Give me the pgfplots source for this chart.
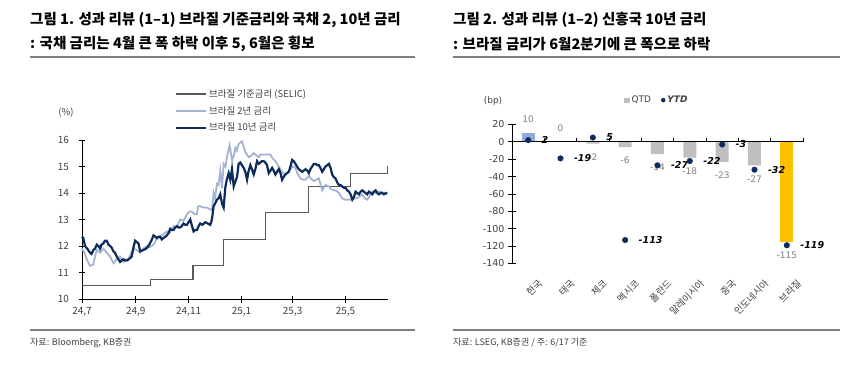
\documentclass[border=0pt]{standalone}
\usepackage{pgfplots}
\pgfplotsset{compat=1.18}
\usepackage{fontspec}
\setmainfont{Noto Sans CJK KR}
\newfontfamily\dv{DejaVu Sans}
\definecolor{navy}{HTML}{0D2B5B}
\definecolor{lblue}{HTML}{A3B3D1}
\definecolor{selic}{HTML}{595959}
\definecolor{qgray}{HTML}{BFBFBF}
\definecolor{kblue}{HTML}{8FAADC}
\definecolor{gold}{HTML}{FFC000}
\definecolor{txt}{HTML}{404040}
\definecolor{lbl}{HTML}{7F7F7F}
\definecolor{rule}{HTML}{7F7F7F}
\begin{document}
\begin{tikzpicture}
\path[use as bounding box] (0,0) rectangle (860pt,-370pt);
% ---------- titles / rules / footers
\node[anchor=west, inner sep=0, font=\fontsize{14.5}{16}\selectfont\bfseries] at (30pt,-20pt) {그림 1. 성과 리뷰 (1–1) 브라질 기준금리와 국채 2, 10년 금리};
\node[anchor=west, inner sep=0, font=\fontsize{14.5}{16}\selectfont\bfseries] at (30pt,-44pt) {: 국채 금리는 4월 큰 폭 하락 이후 5, 6월은 횡보};
\node[anchor=west, inner sep=0, font=\fontsize{14.5}{16}\selectfont\bfseries] at (453pt,-20pt) {그림 2. 성과 리뷰 (1–2) 신흥국 10년 금리};
\node[anchor=west, inner sep=0, font=\fontsize{14.5}{16}\selectfont\bfseries] at (453pt,-44pt) {: 브라질 금리가 6월2분기에 큰 폭으로 하락};
\draw[rule, line width=1.2pt] (30pt,-57pt) -- (415pt,-57pt);
\draw[rule, line width=1.2pt] (453pt,-57pt) -- (840pt,-57pt);
\draw[rule, line width=1.2pt] (30pt,-330pt) -- (415pt,-330pt);
\draw[rule, line width=1.2pt] (453pt,-330pt) -- (840pt,-330pt);
\node[anchor=west, inner sep=0, text=txt, font=\fontsize{9}{10}\selectfont] at (30pt,-343pt) {자료: Bloomberg, KB증권};
\node[anchor=west, inner sep=0, text=txt, font=\fontsize{9}{10}\selectfont] at (453pt,-343pt) {자료: LSEG, KB증권 / 주: 6/17 기준};
\node[inner sep=0, text=txt, font=\fontsize{9.5}{10}\selectfont] at (66pt,-113pt) {(\%)};
\node[inner sep=0, text=txt, font=\dv\fontsize{9}{10}\selectfont] at (493pt,-101pt) {(bp)};

% ---------- left chart
\begin{axis}[
  at={(82pt,-299pt)}, anchor=south west, scale only axis,
  width=306pt, height=159pt,
  xmin=0, xmax=353, ymin=10, ymax=16,
  axis lines=left, axis line style={-, black, line width=0.8pt},
  tick align=center, major tick length=7pt,
  tick style={black, line width=0.7pt},
  xtick={0,62,123,184,243,304},
  xticklabels={{24,7},{24,9},{24,11},{25,1},{25,3},{25,5}},
  ytick={10,11,...,16},
  /pgf/number format/assume math mode=true,
  tick label style={font=\fontsize{10}{11}\selectfont, text=txt},
  yticklabel style={xshift=-6pt},
  xticklabel style={yshift=-1pt},
  clip=false,
  legend style={draw=none, fill=none, at={(0.293,1.345)}, anchor=north west,
    font=\fontsize{9.5}{11}\selectfont, text=txt, row sep=3.5pt,
    legend cell align=left},
  legend image code/.code={\draw[#1] (0pt,0pt) -- (30pt,0pt);},
]
\addplot[selic, line width=1.1pt, const plot] coordinates {
(0,10.5) (79,10.75) (128,11.25) (163,12.25) (212,13.25) (261,14.25) (310,14.75) (352,15.0) (353,15.0)};
\addlegendentry{브라질 기준금리 (SELIC)}
\addplot[lblue, line width=1.8pt] coordinates {
(0,11.9) (3,11.75) (5.4,11.5) (9.2,11.25) (13.1,11.3) (15,11.6) (17,11.85) (20.8,11.75) (24.7,11.9) (28.5,11.75) (32.4,11.6) (36.2,11.35) (40.1,11.5) (43.9,11.6) (47.8,11.4) (50,11.5) (53.6,11.5) (57,11.75) (59.3,11.9) (63,11.85) (67.1,11.75) (71,11.9) (74.8,12.0) (78,11.95) (82.5,12.05) (86,12.25) (90.2,12.35) (94,12.45) (97.9,12.55) (101,12.5) (105.6,12.75) (109,12.7) (113.3,13.0) (117,12.95) (121,13.2) (124,13.3) (126.8,13.3) (130,13.2) (132.6,13.2) (134,13.5) (136.4,13.5) (140,13.45) (144.1,13.45) (147,13.4) (149.9,13.35) (151.8,14.0) (153.5,13.8) (155.7,14.35) (157.5,14.3) (159.5,14.85) (161.5,14.2) (163.4,15.1) (165.5,15.0) (167.2,15.35) (170.3,15.8) (173,15.25) (175,15.4) (176.9,15.7) (178.5,15.6) (180.7,15.85) (184.6,15.95) (186.5,15.75) (188.4,15.55) (192.3,15.35) (195,15.4) (198.1,15.5) (203.9,15.35) (206,15.45) (209.6,15.45) (217.3,15.45) (220,15.3) (223.1,15.2) (226,15.05) (228.9,14.9) (232,14.75) (234.7,14.7) (238,14.8) (240.5,14.9) (243,15.0) (246.2,14.95) (249,14.7) (252,14.55) (255,14.5) (257.8,14.5) (261.7,14.65) (264,14.55) (267.4,14.45) (270,14.5) (273.2,14.55) (277.1,14.1) (280.9,14.3) (284.8,14.25) (287,14.15) (290.6,14.1) (293,14.1) (296.3,14.0) (300.2,13.8) (303,13.75) (306,13.75) (311.8,13.75) (315,13.8) (317.5,13.8) (321,13.9) (323.3,13.95) (326,13.8) (329.1,13.75) (332,13.9) (334.9,14.05) (338.7,14.0) (341,14.05) (344.5,14.05) (348.4,14.0)};
\addlegendentry{브라질 2년 금리}
\addplot[navy, line width=2.2pt] coordinates {
(0,12.35) (1.5,12.3) (3.5,12.0) (6,11.9) (9.2,11.75) (11,11.7) (13.1,11.85) (15,11.9) (17,12.05) (19,12.0) (20.8,11.9) (22.5,12.05) (24.7,12.1) (26.5,12.2) (28.5,12.2) (30.5,12.05) (32.4,12.0) (34,11.95) (36.2,11.8) (38,11.75) (40.1,11.6) (42,11.5) (43.9,11.4) (45.5,11.45) (47.8,11.5) (49.5,11.45) (51.6,11.45) (54,11.5) (57.4,11.6) (59,11.9) (61.3,12.2) (63,12.15) (65.1,12.1) (67.1,11.8) (70.9,11.85) (74,11.9) (76.7,12.0) (80,12.2) (82.5,12.4) (84.5,12.35) (86.3,12.3) (88,12.35) (90.2,12.35) (92,12.25) (94,12.3) (96,12.35) (97.9,12.4) (100,12.5) (101.7,12.65) (103.5,12.6) (105.6,12.6) (107.5,12.7) (109.4,12.75) (111.5,12.7) (113.3,12.7) (115,12.75) (117.1,12.85) (119,12.8) (121,12.8) (123,12.9) (124.9,13.0) (126.5,12.8) (128.7,12.55) (130.5,12.6) (132.6,12.6) (134.5,12.75) (136.4,12.85) (139,12.8) (142.2,12.9) (145,12.85) (148,12.8) (149.9,13.0) (151.8,13.5) (153.5,13.6) (155.7,13.75) (157.5,13.8) (159.5,13.95) (161.5,13.6) (163.4,13.45) (165.3,14.2) (167,14.5) (169.2,14.75) (171.1,14.5) (173,14.9) (175,14.25) (176.5,14.4) (178.8,14.6) (180.7,15.1) (182.5,15.15) (184.6,15.05) (186.5,14.95) (188.4,14.8) (190.4,14.5) (192,14.8) (194.2,15.05) (196,14.9) (198.1,14.7) (200,14.9) (201.9,15.2) (204,15.1) (205.8,15.15) (207.5,15.2) (209.6,15.2) (211.5,15.15) (213.5,15.05) (215.4,14.75) (217.5,14.85) (219.3,14.95) (221,14.85) (223.1,14.7) (225,14.8) (227,14.9) (229,14.75) (230.8,14.5) (232.5,14.6) (234.7,14.7) (236.5,14.75) (238.5,14.8) (240.5,15.0) (242.4,15.25) (244.3,15.2) (246.2,15.1) (248,15.0) (250.1,14.9) (252,14.85) (254,14.8) (256,14.85) (257.8,14.9) (259.7,14.85) (261.7,14.75) (263.5,14.9) (265.5,15.0) (267.5,15.1) (269.4,15.1) (271.3,15.05) (273.2,15.05) (275,14.95) (277.1,14.8) (279,14.9) (280.9,15.0) (283,15.05) (284.8,15.1) (286.7,14.95) (288.6,14.7) (290.5,14.6) (292.5,14.55) (294.4,14.4) (296.3,14.3) (298.2,14.3) (300.2,14.25) (302,14.2) (304,14.2) (306,14.1) (307.9,14.05) (309.8,13.95) (311.8,13.75) (313.7,13.85) (315.6,14.05) (317.5,14.0) (319.5,13.95) (321.4,14.05) (323.3,14.1) (325.2,14.05) (327.2,14.0) (329,13.95) (331,14.05) (333,14.0) (334.9,13.95) (336.8,14.05) (338.7,14.1) (340.6,14.0) (342.6,13.95) (344.5,14.0) (346.4,14.0) (348.3,13.95) (350.3,14.0) (352.2,13.97)};
\addlegendentry{브라질 10년 금리}
\end{axis}

% ---------- right chart
\begin{axis}[
  at={(512pt,-263.5pt)}, anchor=south west, scale only axis,
  width=291pt, height=139pt,
  xmin=-0.5, xmax=8.5, ymin=-140, ymax=20,
  axis lines=left, axis line style={-, black, line width=0.8pt},
  x axis line style={draw=none},
  xtick={0,...,8},
  xticklabels={한국,태국,체코,멕시코,폴란드,말레이시아,중국,인도네시아,브라질},
  xtick style={draw=none},
  xticklabel style={rotate=45, anchor=east, font=\fontsize{9.5}{10}\selectfont, text=txt, yshift=-19pt, xshift=2pt},
  ytick={-140,-120,...,20},
  tick align=center, major tick length=8pt,
  y tick style={black, line width=0.8pt},
  /pgf/number format/assume math mode=true,
  yticklabel style={font=\dv\fontsize{9.5}{10}\selectfont, text=txt},
  clip=false,
  legend style={draw=none, fill=none, at={(0.375,1.235)}, anchor=north west,
    legend columns=2, font=\dv\fontsize{9}{10}\selectfont, text=txt,
    /tikz/every even column/.style={column sep=8pt}},
]
\addplot[ybar, bar width=13pt, fill=kblue, draw=none, forget plot,
  nodes near coords, point meta=y,
  nodes near coords style={font=\dv\fontsize{9}{10}\selectfont, text=lbl, inner ysep=10pt}]
  coordinates {(0,10)};
\addplot[ybar, bar width=13pt, fill=qgray, draw=none,
  nodes near coords, point meta=y,
  nodes near coords style={font=\dv\fontsize{9}{10}\selectfont, text=lbl, inner ysep=10pt},
  legend image code/.code={\fill[qgray] (0pt,-2.6pt) rectangle (5.2pt,2.6pt);}]
  coordinates {(1,0) (2,-2) (3,-6) (4,-14) (5,-18) (6,-23) (7,-27)};
\addlegendentry{QTD}
\addplot[ybar, bar width=13pt, fill=gold, draw=none, forget plot,
  nodes near coords, point meta=y,
  nodes near coords style={font=\dv\fontsize{9}{10}\selectfont, text=lbl, inner ysep=10pt}]
  coordinates {(8,-115)};
\addplot[black, line width=0.8pt, forget plot] coordinates {(-0.5,0) (8.5,0)};
\pgfplotsinvokeforeach{0.5,1.5,2.5,3.5,4.5,5.5,6.5,7.5,8.5}{
  \draw[black, line width=0.7pt] (axis cs:#1,0) -- ++(0pt,3.5pt);
}
\addplot[only marks, mark=*, mark size=2.8pt, navy,
  nodes near coords, point meta=explicit symbolic,
  nodes near coords style={anchor=west, font=\dv\bfseries\itshape\fontsize{9.5}{10}\selectfont, text=black, xshift=10pt},
  legend image code/.code={\fill[navy] (2pt,0pt) circle (2pt);}]
  coordinates {(0,2) [2] (1,-19) [-19] (2,5) [5] (3,-113) [-113] (4,-27) [-27] (5,-22) [-22] (6,-3) [-3] (7,-32) [-32] (8,-119) [-119]};
\addlegendentry{\bfseries\itshape YTD}
\end{axis}
\end{tikzpicture}
\end{document}
